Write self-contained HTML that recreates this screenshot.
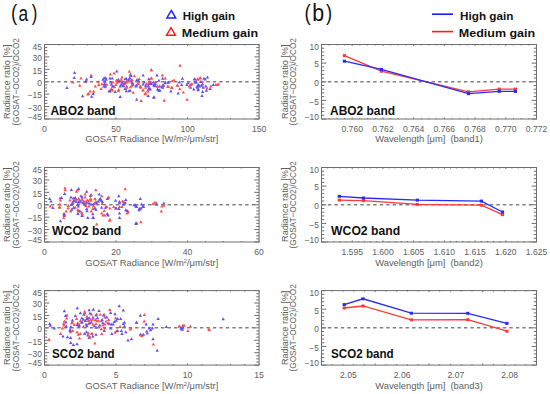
<!DOCTYPE html><html><head><meta charset="utf-8"><style>html,body{margin:0;padding:0;background:#fff;width:550px;height:394px;overflow:hidden}</style></head><body><svg width="550" height="394" viewBox="0 0 550 394" style="position:absolute;left:0;top:0;font-family:'Liberation Sans', sans-serif">
<rect width="550" height="394" fill="#fff"/>
<text transform="translate(11.10 19.81) scale(0.1840 0.2296)" font-size="100" fill="#111">(</text>
<text transform="translate(18.41 20.60) scale(0.1725 0.2259)" font-size="100" fill="#111">a</text>
<text transform="translate(31.83 19.81) scale(0.1680 0.2296)" font-size="100" fill="#111">)</text>
<text transform="translate(304.60 19.81) scale(0.1840 0.2296)" font-size="100" fill="#111">(</text>
<text transform="translate(312.20 20.63) scale(0.2140 0.2306)" font-size="100" fill="#111">b</text>
<text transform="translate(326.12 19.81) scale(0.1840 0.2296)" font-size="100" fill="#111">)</text>
<path d="M171.3 10.4 L175.7 17.9 L166.9 17.9 Z" fill="none" stroke="#2020ff" stroke-width="1.5" stroke-linejoin="miter"/>
<path d="M171.0 27.7 L175.4 35.2 L166.6 35.2 Z" fill="none" stroke="#ff1a1a" stroke-width="1.5"/>
<text x="182.7" y="19.7" font-size="11.8" text-anchor="start" fill="#111" font-weight="bold" textLength="52.3" lengthAdjust="spacingAndGlyphs">High gain</text>
<text x="181.8" y="36.6" font-size="11.8" text-anchor="start" fill="#111" font-weight="bold" textLength="76.4" lengthAdjust="spacingAndGlyphs">Medium gain</text>
<line x1="432" y1="14.2" x2="453" y2="14.2" stroke="#1a1aff" stroke-width="1.6"/>
<line x1="432" y1="31.6" x2="453" y2="31.6" stroke="#ff1a1a" stroke-width="1.6"/>
<text x="460" y="20" font-size="11.8" text-anchor="start" fill="#111" font-weight="bold" textLength="53.4" lengthAdjust="spacingAndGlyphs">High gain</text>
<text x="458.8" y="37.1" font-size="11.8" text-anchor="start" fill="#111" font-weight="bold" textLength="76.4" lengthAdjust="spacingAndGlyphs">Medium gain</text>
<rect x="44.5" y="44.5" width="214.60000000000002" height="74.5" fill="none" stroke="#6e6e6e" stroke-width="1"/>
<path d="M44.5 119.00h4.8M259.1 119.00h-4.8M44.5 115.90h2.8M259.1 115.90h-2.8M44.5 112.79h2.8M259.1 112.79h-2.8M44.5 109.69h2.8M259.1 109.69h-2.8M44.5 106.58h4.8M259.1 106.58h-4.8M44.5 103.48h2.8M259.1 103.48h-2.8M44.5 100.38h2.8M259.1 100.38h-2.8M44.5 97.27h2.8M259.1 97.27h-2.8M44.5 94.17h4.8M259.1 94.17h-4.8M44.5 91.06h2.8M259.1 91.06h-2.8M44.5 87.96h2.8M259.1 87.96h-2.8M44.5 84.85h2.8M259.1 84.85h-2.8M44.5 81.75h4.8M259.1 81.75h-4.8M44.5 78.65h2.8M259.1 78.65h-2.8M44.5 75.54h2.8M259.1 75.54h-2.8M44.5 72.44h2.8M259.1 72.44h-2.8M44.5 69.33h4.8M259.1 69.33h-4.8M44.5 66.23h2.8M259.1 66.23h-2.8M44.5 63.12h2.8M259.1 63.12h-2.8M44.5 60.02h2.8M259.1 60.02h-2.8M44.5 56.92h4.8M259.1 56.92h-4.8M44.5 53.81h2.8M259.1 53.81h-2.8M44.5 50.71h2.8M259.1 50.71h-2.8M44.5 47.60h2.8M259.1 47.60h-2.8M44.5 44.50h4.8M259.1 44.50h-4.8" stroke="#6e6e6e" stroke-width="1" fill="none"/>
<path d="M44.50 119.0v-1.6M44.50 44.5v1.6M58.81 119.0v-1.0M58.81 44.5v1.0M73.11 119.0v-1.0M73.11 44.5v1.0M87.42 119.0v-1.0M87.42 44.5v1.0M101.73 119.0v-1.0M101.73 44.5v1.0M116.03 119.0v-1.6M116.03 44.5v1.6M130.34 119.0v-1.0M130.34 44.5v1.0M144.65 119.0v-1.0M144.65 44.5v1.0M158.95 119.0v-1.0M158.95 44.5v1.0M173.26 119.0v-1.0M173.26 44.5v1.0M187.57 119.0v-1.6M187.57 44.5v1.6M201.87 119.0v-1.0M201.87 44.5v1.0M216.18 119.0v-1.0M216.18 44.5v1.0M230.49 119.0v-1.0M230.49 44.5v1.0M244.79 119.0v-1.0M244.79 44.5v1.0M259.10 119.0v-1.6M259.10 44.5v1.6" stroke="#6e6e6e" stroke-width="1" fill="none"/>
<line x1="44.5" y1="81.75" x2="258.1" y2="81.75" stroke="#808080" stroke-width="1.5" stroke-dasharray="3.4 3.08" stroke-dashoffset="0.1"/>
<text x="41.9" y="119.6" font-size="8.4" text-anchor="end" fill="#5e5e5e" font-weight="normal" >&#8722;45</text>
<text x="41.9" y="110.88333333333333" font-size="8.4" text-anchor="end" fill="#5e5e5e" font-weight="normal" >&#8722;30</text>
<text x="41.9" y="98.46666666666667" font-size="8.4" text-anchor="end" fill="#5e5e5e" font-weight="normal" >&#8722;15</text>
<text x="41.9" y="86.05" font-size="8.4" text-anchor="end" fill="#5e5e5e" font-weight="normal" >0</text>
<text x="41.9" y="73.63333333333334" font-size="8.4" text-anchor="end" fill="#5e5e5e" font-weight="normal" >15</text>
<text x="41.9" y="61.21666666666666" font-size="8.4" text-anchor="end" fill="#5e5e5e" font-weight="normal" >30</text>
<text x="41.9" y="50.1" font-size="8.4" text-anchor="end" fill="#5e5e5e" font-weight="normal" >45</text>
<text x="44.5" y="131.8" font-size="8.6" text-anchor="middle" fill="#5e5e5e" font-weight="normal" >0</text>
<text x="116.03333333333335" y="131.8" font-size="8.6" text-anchor="middle" fill="#5e5e5e" font-weight="normal" >50</text>
<text x="187.5666666666667" y="131.8" font-size="8.6" text-anchor="middle" fill="#5e5e5e" font-weight="normal" >100</text>
<text x="259.1" y="131.8" font-size="8.6" text-anchor="middle" fill="#5e5e5e" font-weight="normal" >150</text>
<text x="151.8" y="142.2" font-size="8.4" text-anchor="middle" fill="#5e5e5e" font-weight="normal" textLength="133" lengthAdjust="spacingAndGlyphs">GOSAT Radiance [W/m<tspan dy="-2.5" font-size="5">2</tspan><tspan dy="2.5">/&#956;m/str]</tspan></text>
<text transform="translate(10.4 81.75) rotate(-90)" x="0" y="0" font-size="9" text-anchor="middle" fill="#5e5e5e" textLength="74.4" lengthAdjust="spacingAndGlyphs">Radiance ratio [%]</text>
<text transform="translate(18.6 81.75) rotate(-90)" x="0" y="0" font-size="9" text-anchor="middle" fill="#5e5e5e" textLength="87.3" lengthAdjust="spacingAndGlyphs">(GOSAT&#8722;OCO2)/OCO2</text>
<text x="50.5" y="114.7" font-size="12" text-anchor="start" fill="#111" font-weight="bold" textLength="65" lengthAdjust="spacingAndGlyphs">ABO2 band</text>
<rect x="321.5" y="44.5" width="215.0" height="74.5" fill="none" stroke="#6e6e6e" stroke-width="1"/>
<path d="M321.5 119.00h4.8M536.5 119.00h-4.8M321.5 115.28h2.8M536.5 115.28h-2.8M321.5 111.55h2.8M536.5 111.55h-2.8M321.5 107.83h2.8M536.5 107.83h-2.8M321.5 104.10h2.8M536.5 104.10h-2.8M321.5 100.38h4.8M536.5 100.38h-4.8M321.5 96.65h2.8M536.5 96.65h-2.8M321.5 92.92h2.8M536.5 92.92h-2.8M321.5 89.20h2.8M536.5 89.20h-2.8M321.5 85.47h2.8M536.5 85.47h-2.8M321.5 81.75h4.8M536.5 81.75h-4.8M321.5 78.03h2.8M536.5 78.03h-2.8M321.5 74.30h2.8M536.5 74.30h-2.8M321.5 70.57h2.8M536.5 70.57h-2.8M321.5 66.85h2.8M536.5 66.85h-2.8M321.5 63.12h4.8M536.5 63.12h-4.8M321.5 59.40h2.8M536.5 59.40h-2.8M321.5 55.68h2.8M536.5 55.68h-2.8M321.5 51.95h2.8M536.5 51.95h-2.8M321.5 48.23h2.8M536.5 48.23h-2.8M321.5 44.50h4.8M536.5 44.50h-4.8" stroke="#6e6e6e" stroke-width="1" fill="none"/>
<path d="M321.50 119.0v-1.6M321.50 44.5v1.6M329.18 119.0v-1.0M329.18 44.5v1.0M336.86 119.0v-1.0M336.86 44.5v1.0M344.54 119.0v-1.0M344.54 44.5v1.0M352.21 119.0v-1.6M352.21 44.5v1.6M359.89 119.0v-1.0M359.89 44.5v1.0M367.57 119.0v-1.0M367.57 44.5v1.0M375.25 119.0v-1.0M375.25 44.5v1.0M382.93 119.0v-1.6M382.93 44.5v1.6M390.61 119.0v-1.0M390.61 44.5v1.0M398.29 119.0v-1.0M398.29 44.5v1.0M405.96 119.0v-1.0M405.96 44.5v1.0M413.64 119.0v-1.6M413.64 44.5v1.6M421.32 119.0v-1.0M421.32 44.5v1.0M429.00 119.0v-1.0M429.00 44.5v1.0M436.68 119.0v-1.0M436.68 44.5v1.0M444.36 119.0v-1.6M444.36 44.5v1.6M452.04 119.0v-1.0M452.04 44.5v1.0M459.71 119.0v-1.0M459.71 44.5v1.0M467.39 119.0v-1.0M467.39 44.5v1.0M475.07 119.0v-1.6M475.07 44.5v1.6M482.75 119.0v-1.0M482.75 44.5v1.0M490.43 119.0v-1.0M490.43 44.5v1.0M498.11 119.0v-1.0M498.11 44.5v1.0M505.79 119.0v-1.6M505.79 44.5v1.6M513.46 119.0v-1.0M513.46 44.5v1.0M521.14 119.0v-1.0M521.14 44.5v1.0M528.82 119.0v-1.0M528.82 44.5v1.0M536.50 119.0v-1.6M536.50 44.5v1.6" stroke="#6e6e6e" stroke-width="1" fill="none"/>
<line x1="321.5" y1="81.75" x2="535.5" y2="81.75" stroke="#808080" stroke-width="1.5" stroke-dasharray="3.4 3.08" stroke-dashoffset="0.1"/>
<text x="318.9" y="119.6" font-size="8.4" text-anchor="end" fill="#5e5e5e" font-weight="normal" >&#8722;10</text>
<text x="318.9" y="104.675" font-size="8.4" text-anchor="end" fill="#5e5e5e" font-weight="normal" >&#8722;5</text>
<text x="318.9" y="86.05" font-size="8.4" text-anchor="end" fill="#5e5e5e" font-weight="normal" >0</text>
<text x="318.9" y="67.425" font-size="8.4" text-anchor="end" fill="#5e5e5e" font-weight="normal" >5</text>
<text x="318.9" y="50.1" font-size="8.4" text-anchor="end" fill="#5e5e5e" font-weight="normal" >10</text>
<text x="352.2142857142857" y="131.8" font-size="8.6" text-anchor="middle" fill="#5e5e5e" font-weight="normal" >0.760</text>
<text x="382.92857142857144" y="131.8" font-size="8.6" text-anchor="middle" fill="#5e5e5e" font-weight="normal" >0.762</text>
<text x="413.6428571428571" y="131.8" font-size="8.6" text-anchor="middle" fill="#5e5e5e" font-weight="normal" >0.764</text>
<text x="444.35714285714283" y="131.8" font-size="8.6" text-anchor="middle" fill="#5e5e5e" font-weight="normal" >0.766</text>
<text x="475.07142857142856" y="131.8" font-size="8.6" text-anchor="middle" fill="#5e5e5e" font-weight="normal" >0.768</text>
<text x="505.7857142857143" y="131.8" font-size="8.6" text-anchor="middle" fill="#5e5e5e" font-weight="normal" >0.770</text>
<text x="536.5" y="131.8" font-size="8.6" text-anchor="middle" fill="#5e5e5e" font-weight="normal" >0.772</text>
<text x="429.0" y="142.2" font-size="8.6" text-anchor="middle" fill="#5e5e5e" font-weight="normal" textLength="107.6" lengthAdjust="spacingAndGlyphs">Wavelength [&#956;m]&#160;&#160;(band1)</text>
<text transform="translate(287.9 81.75) rotate(-90)" x="0" y="0" font-size="9" text-anchor="middle" fill="#5e5e5e" textLength="74.4" lengthAdjust="spacingAndGlyphs">Radiance ratio [%]</text>
<text transform="translate(296.1 81.75) rotate(-90)" x="0" y="0" font-size="9" text-anchor="middle" fill="#5e5e5e" textLength="87.3" lengthAdjust="spacingAndGlyphs">(GOSAT&#8722;OCO2)/OCO2</text>
<text x="330.1" y="114.7" font-size="12" text-anchor="start" fill="#111" font-weight="bold" textLength="65" lengthAdjust="spacingAndGlyphs">ABO2 band</text>
<rect x="44.5" y="167.5" width="214.60000000000002" height="74.5" fill="none" stroke="#6e6e6e" stroke-width="1"/>
<path d="M44.5 242.00h4.8M259.1 242.00h-4.8M44.5 238.90h2.8M259.1 238.90h-2.8M44.5 235.79h2.8M259.1 235.79h-2.8M44.5 232.69h2.8M259.1 232.69h-2.8M44.5 229.58h4.8M259.1 229.58h-4.8M44.5 226.48h2.8M259.1 226.48h-2.8M44.5 223.38h2.8M259.1 223.38h-2.8M44.5 220.27h2.8M259.1 220.27h-2.8M44.5 217.17h4.8M259.1 217.17h-4.8M44.5 214.06h2.8M259.1 214.06h-2.8M44.5 210.96h2.8M259.1 210.96h-2.8M44.5 207.85h2.8M259.1 207.85h-2.8M44.5 204.75h4.8M259.1 204.75h-4.8M44.5 201.65h2.8M259.1 201.65h-2.8M44.5 198.54h2.8M259.1 198.54h-2.8M44.5 195.44h2.8M259.1 195.44h-2.8M44.5 192.33h4.8M259.1 192.33h-4.8M44.5 189.23h2.8M259.1 189.23h-2.8M44.5 186.12h2.8M259.1 186.12h-2.8M44.5 183.02h2.8M259.1 183.02h-2.8M44.5 179.92h4.8M259.1 179.92h-4.8M44.5 176.81h2.8M259.1 176.81h-2.8M44.5 173.71h2.8M259.1 173.71h-2.8M44.5 170.60h2.8M259.1 170.60h-2.8M44.5 167.50h4.8M259.1 167.50h-4.8" stroke="#6e6e6e" stroke-width="1" fill="none"/>
<path d="M44.50 242.0v-1.6M44.50 167.5v1.6M62.38 242.0v-1.0M62.38 167.5v1.0M80.27 242.0v-1.0M80.27 167.5v1.0M98.15 242.0v-1.0M98.15 167.5v1.0M116.03 242.0v-1.6M116.03 167.5v1.6M133.92 242.0v-1.0M133.92 167.5v1.0M151.80 242.0v-1.0M151.80 167.5v1.0M169.68 242.0v-1.0M169.68 167.5v1.0M187.57 242.0v-1.6M187.57 167.5v1.6M205.45 242.0v-1.0M205.45 167.5v1.0M223.33 242.0v-1.0M223.33 167.5v1.0M241.22 242.0v-1.0M241.22 167.5v1.0M259.10 242.0v-1.6M259.10 167.5v1.6" stroke="#6e6e6e" stroke-width="1" fill="none"/>
<line x1="44.5" y1="204.75" x2="258.1" y2="204.75" stroke="#808080" stroke-width="1.5" stroke-dasharray="3.4 3.08" stroke-dashoffset="0.1"/>
<text x="41.9" y="242.6" font-size="8.4" text-anchor="end" fill="#5e5e5e" font-weight="normal" >&#8722;45</text>
<text x="41.9" y="233.88333333333335" font-size="8.4" text-anchor="end" fill="#5e5e5e" font-weight="normal" >&#8722;30</text>
<text x="41.9" y="221.46666666666667" font-size="8.4" text-anchor="end" fill="#5e5e5e" font-weight="normal" >&#8722;15</text>
<text x="41.9" y="209.05" font-size="8.4" text-anchor="end" fill="#5e5e5e" font-weight="normal" >0</text>
<text x="41.9" y="196.63333333333335" font-size="8.4" text-anchor="end" fill="#5e5e5e" font-weight="normal" >15</text>
<text x="41.9" y="184.21666666666667" font-size="8.4" text-anchor="end" fill="#5e5e5e" font-weight="normal" >30</text>
<text x="41.9" y="173.1" font-size="8.4" text-anchor="end" fill="#5e5e5e" font-weight="normal" >45</text>
<text x="44.5" y="254.8" font-size="8.6" text-anchor="middle" fill="#5e5e5e" font-weight="normal" >0</text>
<text x="116.03333333333335" y="254.8" font-size="8.6" text-anchor="middle" fill="#5e5e5e" font-weight="normal" >20</text>
<text x="187.5666666666667" y="254.8" font-size="8.6" text-anchor="middle" fill="#5e5e5e" font-weight="normal" >40</text>
<text x="259.1" y="254.8" font-size="8.6" text-anchor="middle" fill="#5e5e5e" font-weight="normal" >60</text>
<text x="151.8" y="265.8" font-size="8.4" text-anchor="middle" fill="#5e5e5e" font-weight="normal" textLength="133" lengthAdjust="spacingAndGlyphs">GOSAT Radiance [W/m<tspan dy="-2.5" font-size="5">2</tspan><tspan dy="2.5">/&#956;m/str]</tspan></text>
<text transform="translate(10.4 204.75) rotate(-90)" x="0" y="0" font-size="9" text-anchor="middle" fill="#5e5e5e" textLength="74.4" lengthAdjust="spacingAndGlyphs">Radiance ratio [%]</text>
<text transform="translate(18.6 204.75) rotate(-90)" x="0" y="0" font-size="9" text-anchor="middle" fill="#5e5e5e" textLength="87.3" lengthAdjust="spacingAndGlyphs">(GOSAT&#8722;OCO2)/OCO2</text>
<text x="52.1" y="234.6" font-size="12" text-anchor="start" fill="#111" font-weight="bold" textLength="69" lengthAdjust="spacingAndGlyphs">WCO2 band</text>
<rect x="321.5" y="167.5" width="215.0" height="74.5" fill="none" stroke="#6e6e6e" stroke-width="1"/>
<path d="M321.5 242.00h4.8M536.5 242.00h-4.8M321.5 238.28h2.8M536.5 238.28h-2.8M321.5 234.55h2.8M536.5 234.55h-2.8M321.5 230.82h2.8M536.5 230.82h-2.8M321.5 227.10h2.8M536.5 227.10h-2.8M321.5 223.38h4.8M536.5 223.38h-4.8M321.5 219.65h2.8M536.5 219.65h-2.8M321.5 215.93h2.8M536.5 215.93h-2.8M321.5 212.20h2.8M536.5 212.20h-2.8M321.5 208.47h2.8M536.5 208.47h-2.8M321.5 204.75h4.8M536.5 204.75h-4.8M321.5 201.03h2.8M536.5 201.03h-2.8M321.5 197.30h2.8M536.5 197.30h-2.8M321.5 193.57h2.8M536.5 193.57h-2.8M321.5 189.85h2.8M536.5 189.85h-2.8M321.5 186.12h4.8M536.5 186.12h-4.8M321.5 182.40h2.8M536.5 182.40h-2.8M321.5 178.68h2.8M536.5 178.68h-2.8M321.5 174.95h2.8M536.5 174.95h-2.8M321.5 171.23h2.8M536.5 171.23h-2.8M321.5 167.50h4.8M536.5 167.50h-4.8" stroke="#6e6e6e" stroke-width="1" fill="none"/>
<path d="M321.50 242.0v-1.6M321.50 167.5v1.6M327.64 242.0v-1.0M327.64 167.5v1.0M333.79 242.0v-1.0M333.79 167.5v1.0M339.93 242.0v-1.0M339.93 167.5v1.0M346.07 242.0v-1.0M346.07 167.5v1.0M352.21 242.0v-1.6M352.21 167.5v1.6M358.36 242.0v-1.0M358.36 167.5v1.0M364.50 242.0v-1.0M364.50 167.5v1.0M370.64 242.0v-1.0M370.64 167.5v1.0M376.79 242.0v-1.0M376.79 167.5v1.0M382.93 242.0v-1.6M382.93 167.5v1.6M389.07 242.0v-1.0M389.07 167.5v1.0M395.21 242.0v-1.0M395.21 167.5v1.0M401.36 242.0v-1.0M401.36 167.5v1.0M407.50 242.0v-1.0M407.50 167.5v1.0M413.64 242.0v-1.6M413.64 167.5v1.6M419.79 242.0v-1.0M419.79 167.5v1.0M425.93 242.0v-1.0M425.93 167.5v1.0M432.07 242.0v-1.0M432.07 167.5v1.0M438.21 242.0v-1.0M438.21 167.5v1.0M444.36 242.0v-1.6M444.36 167.5v1.6M450.50 242.0v-1.0M450.50 167.5v1.0M456.64 242.0v-1.0M456.64 167.5v1.0M462.79 242.0v-1.0M462.79 167.5v1.0M468.93 242.0v-1.0M468.93 167.5v1.0M475.07 242.0v-1.6M475.07 167.5v1.6M481.21 242.0v-1.0M481.21 167.5v1.0M487.36 242.0v-1.0M487.36 167.5v1.0M493.50 242.0v-1.0M493.50 167.5v1.0M499.64 242.0v-1.0M499.64 167.5v1.0M505.79 242.0v-1.6M505.79 167.5v1.6M511.93 242.0v-1.0M511.93 167.5v1.0M518.07 242.0v-1.0M518.07 167.5v1.0M524.21 242.0v-1.0M524.21 167.5v1.0M530.36 242.0v-1.0M530.36 167.5v1.0M536.50 242.0v-1.6M536.50 167.5v1.6" stroke="#6e6e6e" stroke-width="1" fill="none"/>
<line x1="321.5" y1="204.75" x2="535.5" y2="204.75" stroke="#808080" stroke-width="1.5" stroke-dasharray="3.4 3.08" stroke-dashoffset="0.1"/>
<text x="318.9" y="242.6" font-size="8.4" text-anchor="end" fill="#5e5e5e" font-weight="normal" >&#8722;10</text>
<text x="318.9" y="227.675" font-size="8.4" text-anchor="end" fill="#5e5e5e" font-weight="normal" >&#8722;5</text>
<text x="318.9" y="209.05" font-size="8.4" text-anchor="end" fill="#5e5e5e" font-weight="normal" >0</text>
<text x="318.9" y="190.425" font-size="8.4" text-anchor="end" fill="#5e5e5e" font-weight="normal" >5</text>
<text x="318.9" y="173.1" font-size="8.4" text-anchor="end" fill="#5e5e5e" font-weight="normal" >10</text>
<text x="352.21428571428515" y="254.8" font-size="8.6" text-anchor="middle" fill="#5e5e5e" font-weight="normal" >1.595</text>
<text x="382.9285714285716" y="254.8" font-size="8.6" text-anchor="middle" fill="#5e5e5e" font-weight="normal" >1.600</text>
<text x="413.64285714285677" y="254.8" font-size="8.6" text-anchor="middle" fill="#5e5e5e" font-weight="normal" >1.605</text>
<text x="444.35714285714323" y="254.8" font-size="8.6" text-anchor="middle" fill="#5e5e5e" font-weight="normal" >1.610</text>
<text x="475.0714285714284" y="254.8" font-size="8.6" text-anchor="middle" fill="#5e5e5e" font-weight="normal" >1.615</text>
<text x="505.7857142857149" y="254.8" font-size="8.6" text-anchor="middle" fill="#5e5e5e" font-weight="normal" >1.620</text>
<text x="536.5" y="254.8" font-size="8.6" text-anchor="middle" fill="#5e5e5e" font-weight="normal" >1.625</text>
<text x="429.0" y="265.8" font-size="8.6" text-anchor="middle" fill="#5e5e5e" font-weight="normal" textLength="107.6" lengthAdjust="spacingAndGlyphs">Wavelength [&#956;m]&#160;&#160;(band2)</text>
<text transform="translate(287.9 204.75) rotate(-90)" x="0" y="0" font-size="9" text-anchor="middle" fill="#5e5e5e" textLength="74.4" lengthAdjust="spacingAndGlyphs">Radiance ratio [%]</text>
<text transform="translate(296.1 204.75) rotate(-90)" x="0" y="0" font-size="9" text-anchor="middle" fill="#5e5e5e" textLength="87.3" lengthAdjust="spacingAndGlyphs">(GOSAT&#8722;OCO2)/OCO2</text>
<text x="331.1" y="234.6" font-size="12" text-anchor="start" fill="#111" font-weight="bold" textLength="69" lengthAdjust="spacingAndGlyphs">WCO2 band</text>
<rect x="44.5" y="290.6" width="214.60000000000002" height="74.5" fill="none" stroke="#6e6e6e" stroke-width="1"/>
<path d="M44.5 365.10h4.8M259.1 365.10h-4.8M44.5 362.00h2.8M259.1 362.00h-2.8M44.5 358.89h2.8M259.1 358.89h-2.8M44.5 355.79h2.8M259.1 355.79h-2.8M44.5 352.68h4.8M259.1 352.68h-4.8M44.5 349.58h2.8M259.1 349.58h-2.8M44.5 346.48h2.8M259.1 346.48h-2.8M44.5 343.37h2.8M259.1 343.37h-2.8M44.5 340.27h4.8M259.1 340.27h-4.8M44.5 337.16h2.8M259.1 337.16h-2.8M44.5 334.06h2.8M259.1 334.06h-2.8M44.5 330.95h2.8M259.1 330.95h-2.8M44.5 327.85h4.8M259.1 327.85h-4.8M44.5 324.75h2.8M259.1 324.75h-2.8M44.5 321.64h2.8M259.1 321.64h-2.8M44.5 318.54h2.8M259.1 318.54h-2.8M44.5 315.43h4.8M259.1 315.43h-4.8M44.5 312.33h2.8M259.1 312.33h-2.8M44.5 309.23h2.8M259.1 309.23h-2.8M44.5 306.12h2.8M259.1 306.12h-2.8M44.5 303.02h4.8M259.1 303.02h-4.8M44.5 299.91h2.8M259.1 299.91h-2.8M44.5 296.81h2.8M259.1 296.81h-2.8M44.5 293.70h2.8M259.1 293.70h-2.8M44.5 290.60h4.8M259.1 290.60h-4.8" stroke="#6e6e6e" stroke-width="1" fill="none"/>
<path d="M44.50 365.1v-1.6M44.50 290.6v1.6M58.81 365.1v-1.0M58.81 290.6v1.0M73.11 365.1v-1.0M73.11 290.6v1.0M87.42 365.1v-1.0M87.42 290.6v1.0M101.73 365.1v-1.0M101.73 290.6v1.0M116.03 365.1v-1.6M116.03 290.6v1.6M130.34 365.1v-1.0M130.34 290.6v1.0M144.65 365.1v-1.0M144.65 290.6v1.0M158.95 365.1v-1.0M158.95 290.6v1.0M173.26 365.1v-1.0M173.26 290.6v1.0M187.57 365.1v-1.6M187.57 290.6v1.6M201.87 365.1v-1.0M201.87 290.6v1.0M216.18 365.1v-1.0M216.18 290.6v1.0M230.49 365.1v-1.0M230.49 290.6v1.0M244.79 365.1v-1.0M244.79 290.6v1.0M259.10 365.1v-1.6M259.10 290.6v1.6" stroke="#6e6e6e" stroke-width="1" fill="none"/>
<line x1="44.5" y1="327.85" x2="258.1" y2="327.85" stroke="#808080" stroke-width="1.5" stroke-dasharray="3.4 3.08" stroke-dashoffset="0.1"/>
<text x="41.9" y="365.70000000000005" font-size="8.4" text-anchor="end" fill="#5e5e5e" font-weight="normal" >&#8722;45</text>
<text x="41.9" y="356.98333333333335" font-size="8.4" text-anchor="end" fill="#5e5e5e" font-weight="normal" >&#8722;30</text>
<text x="41.9" y="344.5666666666667" font-size="8.4" text-anchor="end" fill="#5e5e5e" font-weight="normal" >&#8722;15</text>
<text x="41.9" y="332.15000000000003" font-size="8.4" text-anchor="end" fill="#5e5e5e" font-weight="normal" >0</text>
<text x="41.9" y="319.73333333333335" font-size="8.4" text-anchor="end" fill="#5e5e5e" font-weight="normal" >15</text>
<text x="41.9" y="307.3166666666667" font-size="8.4" text-anchor="end" fill="#5e5e5e" font-weight="normal" >30</text>
<text x="41.9" y="296.20000000000005" font-size="8.4" text-anchor="end" fill="#5e5e5e" font-weight="normal" >45</text>
<text x="44.5" y="377.90000000000003" font-size="8.6" text-anchor="middle" fill="#5e5e5e" font-weight="normal" >0</text>
<text x="116.03333333333335" y="377.90000000000003" font-size="8.6" text-anchor="middle" fill="#5e5e5e" font-weight="normal" >5</text>
<text x="187.5666666666667" y="377.90000000000003" font-size="8.6" text-anchor="middle" fill="#5e5e5e" font-weight="normal" >10</text>
<text x="259.1" y="377.90000000000003" font-size="8.6" text-anchor="middle" fill="#5e5e5e" font-weight="normal" >15</text>
<text x="151.8" y="388.90000000000003" font-size="8.4" text-anchor="middle" fill="#5e5e5e" font-weight="normal" textLength="133" lengthAdjust="spacingAndGlyphs">GOSAT Radiance [W/m<tspan dy="-2.5" font-size="5">2</tspan><tspan dy="2.5">/&#956;m/str]</tspan></text>
<text transform="translate(10.4 327.85) rotate(-90)" x="0" y="0" font-size="9" text-anchor="middle" fill="#5e5e5e" textLength="74.4" lengthAdjust="spacingAndGlyphs">Radiance ratio [%]</text>
<text transform="translate(18.6 327.85) rotate(-90)" x="0" y="0" font-size="9" text-anchor="middle" fill="#5e5e5e" textLength="87.3" lengthAdjust="spacingAndGlyphs">(GOSAT&#8722;OCO2)/OCO2</text>
<text x="52.1" y="358.0" font-size="12" text-anchor="start" fill="#111" font-weight="bold" textLength="62.6" lengthAdjust="spacingAndGlyphs">SCO2 band</text>
<rect x="321.5" y="290.6" width="215.0" height="74.5" fill="none" stroke="#6e6e6e" stroke-width="1"/>
<path d="M321.5 365.10h4.8M536.5 365.10h-4.8M321.5 361.38h2.8M536.5 361.38h-2.8M321.5 357.65h2.8M536.5 357.65h-2.8M321.5 353.93h2.8M536.5 353.93h-2.8M321.5 350.20h2.8M536.5 350.20h-2.8M321.5 346.48h4.8M536.5 346.48h-4.8M321.5 342.75h2.8M536.5 342.75h-2.8M321.5 339.03h2.8M536.5 339.03h-2.8M321.5 335.30h2.8M536.5 335.30h-2.8M321.5 331.58h2.8M536.5 331.58h-2.8M321.5 327.85h4.8M536.5 327.85h-4.8M321.5 324.12h2.8M536.5 324.12h-2.8M321.5 320.40h2.8M536.5 320.40h-2.8M321.5 316.68h2.8M536.5 316.68h-2.8M321.5 312.95h2.8M536.5 312.95h-2.8M321.5 309.23h4.8M536.5 309.23h-4.8M321.5 305.50h2.8M536.5 305.50h-2.8M321.5 301.78h2.8M536.5 301.78h-2.8M321.5 298.05h2.8M536.5 298.05h-2.8M321.5 294.33h2.8M536.5 294.33h-2.8M321.5 290.60h4.8M536.5 290.60h-4.8" stroke="#6e6e6e" stroke-width="1" fill="none"/>
<path d="M321.50 365.1v-1.6M321.50 290.6v1.6M332.25 365.1v-1.0M332.25 290.6v1.0M343.00 365.1v-1.0M343.00 290.6v1.0M353.75 365.1v-1.0M353.75 290.6v1.0M364.50 365.1v-1.0M364.50 290.6v1.0M375.25 365.1v-1.6M375.25 290.6v1.6M386.00 365.1v-1.0M386.00 290.6v1.0M396.75 365.1v-1.0M396.75 290.6v1.0M407.50 365.1v-1.0M407.50 290.6v1.0M418.25 365.1v-1.0M418.25 290.6v1.0M429.00 365.1v-1.6M429.00 290.6v1.6M439.75 365.1v-1.0M439.75 290.6v1.0M450.50 365.1v-1.0M450.50 290.6v1.0M461.25 365.1v-1.0M461.25 290.6v1.0M472.00 365.1v-1.0M472.00 290.6v1.0M482.75 365.1v-1.6M482.75 290.6v1.6M493.50 365.1v-1.0M493.50 290.6v1.0M504.25 365.1v-1.0M504.25 290.6v1.0M515.00 365.1v-1.0M515.00 290.6v1.0M525.75 365.1v-1.0M525.75 290.6v1.0M536.50 365.1v-1.6M536.50 290.6v1.6" stroke="#6e6e6e" stroke-width="1" fill="none"/>
<line x1="321.5" y1="327.85" x2="535.5" y2="327.85" stroke="#808080" stroke-width="1.5" stroke-dasharray="3.4 3.08" stroke-dashoffset="0.1"/>
<text x="318.9" y="365.70000000000005" font-size="8.4" text-anchor="end" fill="#5e5e5e" font-weight="normal" >&#8722;10</text>
<text x="318.9" y="350.77500000000003" font-size="8.4" text-anchor="end" fill="#5e5e5e" font-weight="normal" >&#8722;5</text>
<text x="318.9" y="332.15000000000003" font-size="8.4" text-anchor="end" fill="#5e5e5e" font-weight="normal" >0</text>
<text x="318.9" y="313.52500000000003" font-size="8.4" text-anchor="end" fill="#5e5e5e" font-weight="normal" >5</text>
<text x="318.9" y="296.20000000000005" font-size="8.4" text-anchor="end" fill="#5e5e5e" font-weight="normal" >10</text>
<text x="348.37499999999943" y="377.90000000000003" font-size="8.6" text-anchor="middle" fill="#5e5e5e" font-weight="normal" >2.05</text>
<text x="402.12500000000057" y="377.90000000000003" font-size="8.6" text-anchor="middle" fill="#5e5e5e" font-weight="normal" >2.06</text>
<text x="455.87499999999943" y="377.90000000000003" font-size="8.6" text-anchor="middle" fill="#5e5e5e" font-weight="normal" >2.07</text>
<text x="509.62500000000057" y="377.90000000000003" font-size="8.6" text-anchor="middle" fill="#5e5e5e" font-weight="normal" >2.08</text>
<text x="429.0" y="388.90000000000003" font-size="8.6" text-anchor="middle" fill="#5e5e5e" font-weight="normal" textLength="107.6" lengthAdjust="spacingAndGlyphs">Wavelength [&#956;m]&#160;&#160;(band3)</text>
<text transform="translate(287.9 327.85) rotate(-90)" x="0" y="0" font-size="9" text-anchor="middle" fill="#5e5e5e" textLength="74.4" lengthAdjust="spacingAndGlyphs">Radiance ratio [%]</text>
<text transform="translate(296.1 327.85) rotate(-90)" x="0" y="0" font-size="9" text-anchor="middle" fill="#5e5e5e" textLength="87.3" lengthAdjust="spacingAndGlyphs">(GOSAT&#8722;OCO2)/OCO2</text>
<text x="331.1" y="358.0" font-size="12" text-anchor="start" fill="#111" font-weight="bold" textLength="62.6" lengthAdjust="spacingAndGlyphs">SCO2 band</text>
<path d="M344.4 55.6 L381.4 71.2 L468.5 91.8 L499.2 89.1 L515.4 89.1" fill="none" stroke="#ff3838" stroke-width="1.3"/>
<rect x="342.8" y="54.1" width="3.2" height="3" fill="#ff3838"/>
<rect x="379.8" y="69.7" width="3.2" height="3" fill="#ff3838"/>
<rect x="466.9" y="90.3" width="3.2" height="3" fill="#ff3838"/>
<rect x="497.6" y="87.6" width="3.2" height="3" fill="#ff3838"/>
<rect x="513.8" y="87.6" width="3.2" height="3" fill="#ff3838"/>
<path d="M344.4 61.2 L381.4 69.4 L468.5 93.7 L499.2 91.3 L515.4 91.4" fill="none" stroke="#2a2af5" stroke-width="1.3"/>
<rect x="342.8" y="59.7" width="3.2" height="3" fill="#2a2af5"/>
<rect x="379.8" y="67.9" width="3.2" height="3" fill="#2a2af5"/>
<rect x="466.9" y="92.2" width="3.2" height="3" fill="#2a2af5"/>
<rect x="497.6" y="89.8" width="3.2" height="3" fill="#2a2af5"/>
<rect x="513.8" y="89.9" width="3.2" height="3" fill="#2a2af5"/>
<path d="M339.3 200.1 L363.5 200.6 L417.3 204.4 L481.4 205.2 L502.5 214.6" fill="none" stroke="#ff3838" stroke-width="1.3"/>
<rect x="337.7" y="198.6" width="3.2" height="3" fill="#ff3838"/>
<rect x="361.9" y="199.1" width="3.2" height="3" fill="#ff3838"/>
<rect x="415.7" y="202.9" width="3.2" height="3" fill="#ff3838"/>
<rect x="479.8" y="203.7" width="3.2" height="3" fill="#ff3838"/>
<rect x="500.9" y="213.1" width="3.2" height="3" fill="#ff3838"/>
<path d="M339.3 196.3 L363.5 198 L417.3 200.1 L481.4 201.1 L502.5 212" fill="none" stroke="#2a2af5" stroke-width="1.3"/>
<rect x="337.7" y="194.8" width="3.2" height="3" fill="#2a2af5"/>
<rect x="361.9" y="196.5" width="3.2" height="3" fill="#2a2af5"/>
<rect x="415.7" y="198.6" width="3.2" height="3" fill="#2a2af5"/>
<rect x="479.8" y="199.6" width="3.2" height="3" fill="#2a2af5"/>
<rect x="500.9" y="210.5" width="3.2" height="3" fill="#2a2af5"/>
<path d="M344.2 308 L363 306 L411.3 319.9 L467.8 319.7 L506.9 331.2" fill="none" stroke="#ff3838" stroke-width="1.3"/>
<rect x="342.6" y="306.5" width="3.2" height="3" fill="#ff3838"/>
<rect x="361.4" y="304.5" width="3.2" height="3" fill="#ff3838"/>
<rect x="409.7" y="318.4" width="3.2" height="3" fill="#ff3838"/>
<rect x="466.2" y="318.2" width="3.2" height="3" fill="#ff3838"/>
<rect x="505.3" y="329.7" width="3.2" height="3" fill="#ff3838"/>
<path d="M344.2 304.6 L363 298.8 L411.3 313.2 L467.8 313.3 L506.9 323.4" fill="none" stroke="#2a2af5" stroke-width="1.3"/>
<rect x="342.6" y="303.1" width="3.2" height="3" fill="#2a2af5"/>
<rect x="361.4" y="297.3" width="3.2" height="3" fill="#2a2af5"/>
<rect x="409.7" y="311.7" width="3.2" height="3" fill="#2a2af5"/>
<rect x="466.2" y="311.8" width="3.2" height="3" fill="#2a2af5"/>
<rect x="505.3" y="321.9" width="3.2" height="3" fill="#2a2af5"/>
<g id="sc">
<path d="M81.0 76.4l1.7 3h-3.4z" fill="#ff4f4c"/>
<path d="M72.7 80.6l1.7 3h-3.4z" fill="#ff4f4c"/>
<path d="M79.7 83.8l1.7 3h-3.4z" fill="#ff4f4c"/>
<path d="M85.4 79.9l1.7 3h-3.4z" fill="#ff4f4c"/>
<path d="M91.1 73.6l1.7 3h-3.4z" fill="#ff4f4c"/>
<path d="M95.3 84.4l1.7 3h-3.4z" fill="#ff4f4c"/>
<path d="M98.1 79.9l1.7 3h-3.4z" fill="#ff4f4c"/>
<path d="M98.7 83.1l1.7 3h-3.4z" fill="#ff4f4c"/>
<path d="M88.6 92.0l1.7 3h-3.4z" fill="#ff4f4c"/>
<path d="M90.1 89.5l1.7 3h-3.4z" fill="#ff4f4c"/>
<path d="M93.6 89.7l1.7 3h-3.4z" fill="#ff4f4c"/>
<path d="M87.7 92.6l1.7 3h-3.4z" fill="#ff4f4c"/>
<path d="M74.6 71.1l1.7 3h-3.4z" fill="#6550f2"/>
<path d="M74.2 76.1l1.7 3h-3.4z" fill="#6550f2"/>
<path d="M67.0 86.0l1.7 3h-3.4z" fill="#6550f2"/>
<path d="M86.6 77.4l1.7 3h-3.4z" fill="#6550f2"/>
<path d="M86.0 79.3l1.7 3h-3.4z" fill="#6550f2"/>
<path d="M91.1 74.9l1.7 3h-3.4z" fill="#6550f2"/>
<path d="M82.6 94.2l1.7 3h-3.4z" fill="#6550f2"/>
<path d="M91.7 94.8l1.7 3h-3.4z" fill="#6550f2"/>
<path d="M93.2 92.0l1.7 3h-3.4z" fill="#6550f2"/>
<path d="M151.3 68.3l1.7 3h-3.4z" fill="#ff4f4c"/>
<path d="M151.3 76.4l1.7 3h-3.4z" fill="#ff4f4c"/>
<path d="M140.5 85.0l1.7 3h-3.4z" fill="#ff4f4c"/>
<path d="M143.1 88.2l1.7 3h-3.4z" fill="#ff4f4c"/>
<path d="M145.6 85.7l1.7 3h-3.4z" fill="#ff4f4c"/>
<path d="M148.1 89.5l1.7 3h-3.4z" fill="#ff4f4c"/>
<path d="M145.6 91.4l1.7 3h-3.4z" fill="#ff4f4c"/>
<path d="M141.2 99.0l1.7 3h-3.4z" fill="#ff4f4c"/>
<path d="M149.4 79.9l1.7 3h-3.4z" fill="#ff4f4c"/>
<path d="M148.1 84.4l1.7 3h-3.4z" fill="#ff4f4c"/>
<path d="M143.1 73.6l1.7 3h-3.4z" fill="#6550f2"/>
<path d="M148.8 77.2l1.7 3h-3.4z" fill="#6550f2"/>
<path d="M143.1 82.5l1.7 3h-3.4z" fill="#6550f2"/>
<path d="M149.4 81.9l1.7 3h-3.4z" fill="#6550f2"/>
<path d="M153.2 80.6l1.7 3h-3.4z" fill="#6550f2"/>
<path d="M154.5 82.5l1.7 3h-3.4z" fill="#6550f2"/>
<path d="M148.8 86.9l1.7 3h-3.4z" fill="#6550f2"/>
<path d="M150.1 87.6l1.7 3h-3.4z" fill="#6550f2"/>
<path d="M136.7 97.7l1.7 3h-3.4z" fill="#6550f2"/>
<path d="M148.1 93.9l1.7 3h-3.4z" fill="#6550f2"/>
<path d="M153.9 95.2l1.7 3h-3.4z" fill="#6550f2"/>
<path d="M144.3 80.6l1.7 3h-3.4z" fill="#6550f2"/>
<path d="M151.3 68.3l1.7 3h-3.4z" fill="#ff4f4c"/>
<path d="M180.1 63.7l1.7 3h-3.4z" fill="#ff4f4c"/>
<path d="M162.4 73.6l1.7 3h-3.4z" fill="#ff4f4c"/>
<path d="M151.5 76.4l1.7 3h-3.4z" fill="#ff4f4c"/>
<path d="M165.2 76.4l1.7 3h-3.4z" fill="#ff4f4c"/>
<path d="M172.2 79.3l1.7 3h-3.4z" fill="#ff4f4c"/>
<path d="M174.1 78.4l1.7 3h-3.4z" fill="#ff4f4c"/>
<path d="M177.3 83.5l1.7 3h-3.4z" fill="#ff4f4c"/>
<path d="M179.8 87.3l1.7 3h-3.4z" fill="#ff4f4c"/>
<path d="M183.2 90.4l1.7 3h-3.4z" fill="#ff4f4c"/>
<path d="M187.1 97.7l1.7 3h-3.4z" fill="#ff4f4c"/>
<path d="M164.2 98.7l1.7 3h-3.4z" fill="#ff4f4c"/>
<path d="M162.7 83.8l1.7 3h-3.4z" fill="#ff4f4c"/>
<path d="M167.8 84.4l1.7 3h-3.4z" fill="#ff4f4c"/>
<path d="M171.6 85.7l1.7 3h-3.4z" fill="#ff4f4c"/>
<path d="M157.6 84.4l1.7 3h-3.4z" fill="#ff4f4c"/>
<path d="M190.6 83.1l1.7 3h-3.4z" fill="#ff4f4c"/>
<path d="M191.9 81.9l1.7 3h-3.4z" fill="#ff4f4c"/>
<path d="M197.6 77.4l1.7 3h-3.4z" fill="#ff4f4c"/>
<path d="M199.5 76.8l1.7 3h-3.4z" fill="#ff4f4c"/>
<path d="M155.7 80.6l1.7 3h-3.4z" fill="#ff4f4c"/>
<path d="M150.0 80.6l1.7 3h-3.4z" fill="#ff4f4c"/>
<path d="M189.3 84.4l1.7 3h-3.4z" fill="#ff4f4c"/>
<path d="M157.0 73.6l1.7 3h-3.4z" fill="#6550f2"/>
<path d="M162.7 76.8l1.7 3h-3.4z" fill="#6550f2"/>
<path d="M182.4 76.8l1.7 3h-3.4z" fill="#6550f2"/>
<path d="M194.4 77.2l1.7 3h-3.4z" fill="#6550f2"/>
<path d="M158.9 78.7l1.7 3h-3.4z" fill="#6550f2"/>
<path d="M165.2 80.6l1.7 3h-3.4z" fill="#6550f2"/>
<path d="M168.4 80.6l1.7 3h-3.4z" fill="#6550f2"/>
<path d="M179.2 80.6l1.7 3h-3.4z" fill="#6550f2"/>
<path d="M181.7 83.1l1.7 3h-3.4z" fill="#6550f2"/>
<path d="M188.1 81.2l1.7 3h-3.4z" fill="#6550f2"/>
<path d="M186.8 83.1l1.7 3h-3.4z" fill="#6550f2"/>
<path d="M190.6 85.7l1.7 3h-3.4z" fill="#6550f2"/>
<path d="M193.8 87.6l1.7 3h-3.4z" fill="#6550f2"/>
<path d="M197.0 85.0l1.7 3h-3.4z" fill="#6550f2"/>
<path d="M198.9 83.8l1.7 3h-3.4z" fill="#6550f2"/>
<path d="M198.2 87.6l1.7 3h-3.4z" fill="#6550f2"/>
<path d="M151.3 81.9l1.7 3h-3.4z" fill="#6550f2"/>
<path d="M153.8 83.8l1.7 3h-3.4z" fill="#6550f2"/>
<path d="M157.6 87.6l1.7 3h-3.4z" fill="#6550f2"/>
<path d="M159.5 88.6l1.7 3h-3.4z" fill="#6550f2"/>
<path d="M162.7 85.7l1.7 3h-3.4z" fill="#6550f2"/>
<path d="M170.9 89.5l1.7 3h-3.4z" fill="#6550f2"/>
<path d="M178.2 91.4l1.7 3h-3.4z" fill="#6550f2"/>
<path d="M153.8 95.8l1.7 3h-3.4z" fill="#6550f2"/>
<path d="M150.0 86.9l1.7 3h-3.4z" fill="#6550f2"/>
<path d="M155.1 81.9l1.7 3h-3.4z" fill="#6550f2"/>
<path d="M195.1 80.6l1.7 3h-3.4z" fill="#6550f2"/>
<path d="M197.5 77.4l1.7 3h-3.4z" fill="#ff4f4c"/>
<path d="M200.3 76.1l1.7 3h-3.4z" fill="#ff4f4c"/>
<path d="M202.0 79.9l1.7 3h-3.4z" fill="#ff4f4c"/>
<path d="M210.9 84.4l1.7 3h-3.4z" fill="#ff4f4c"/>
<path d="M207.1 86.5l1.7 3h-3.4z" fill="#ff4f4c"/>
<path d="M215.9 83.1l1.7 3h-3.4z" fill="#ff4f4c"/>
<path d="M218.5 82.5l1.7 3h-3.4z" fill="#ff4f4c"/>
<path d="M217.2 83.1l1.7 3h-3.4z" fill="#ff4f4c"/>
<path d="M195.0 77.4l1.7 3h-3.4z" fill="#6550f2"/>
<path d="M196.3 80.6l1.7 3h-3.4z" fill="#6550f2"/>
<path d="M203.9 76.8l1.7 3h-3.4z" fill="#6550f2"/>
<path d="M205.2 77.4l1.7 3h-3.4z" fill="#6550f2"/>
<path d="M207.4 75.5l1.7 3h-3.4z" fill="#6550f2"/>
<path d="M200.7 79.9l1.7 3h-3.4z" fill="#6550f2"/>
<path d="M198.2 83.1l1.7 3h-3.4z" fill="#6550f2"/>
<path d="M199.4 84.4l1.7 3h-3.4z" fill="#6550f2"/>
<path d="M197.5 85.7l1.7 3h-3.4z" fill="#6550f2"/>
<path d="M201.3 83.8l1.7 3h-3.4z" fill="#6550f2"/>
<path d="M202.6 82.5l1.7 3h-3.4z" fill="#6550f2"/>
<path d="M205.8 84.4l1.7 3h-3.4z" fill="#6550f2"/>
<path d="M202.6 90.1l1.7 3h-3.4z" fill="#6550f2"/>
<path d="M202.0 93.9l1.7 3h-3.4z" fill="#6550f2"/>
<path d="M206.4 88.8l1.7 3h-3.4z" fill="#6550f2"/>
<path d="M210.2 86.9l1.7 3h-3.4z" fill="#6550f2"/>
<path d="M213.4 83.1l1.7 3h-3.4z" fill="#6550f2"/>
<path d="M198.2 88.2l1.7 3h-3.4z" fill="#6550f2"/>
<path d="M203.2 85.7l1.7 3h-3.4z" fill="#6550f2"/>
<path d="M110.3 72.4l1.7 3h-3.4z" fill="#ff4f4c"/>
<path d="M114.1 71.5l1.7 3h-3.4z" fill="#ff4f4c"/>
<path d="M129.3 69.7l1.7 3h-3.4z" fill="#ff4f4c"/>
<path d="M134.3 74.3l1.7 3h-3.4z" fill="#ff4f4c"/>
<path d="M122.1 75.4l1.7 3h-3.4z" fill="#ff4f4c"/>
<path d="M116.4 78.5l1.7 3h-3.4z" fill="#ff4f4c"/>
<path d="M117.1 80.8l1.7 3h-3.4z" fill="#ff4f4c"/>
<path d="M119.0 80.0l1.7 3h-3.4z" fill="#ff4f4c"/>
<path d="M120.6 79.3l1.7 3h-3.4z" fill="#ff4f4c"/>
<path d="M121.3 77.7l1.7 3h-3.4z" fill="#ff4f4c"/>
<path d="M116.0 83.1l1.7 3h-3.4z" fill="#ff4f4c"/>
<path d="M113.0 80.4l1.7 3h-3.4z" fill="#ff4f4c"/>
<path d="M113.3 84.6l1.7 3h-3.4z" fill="#ff4f4c"/>
<path d="M114.5 85.3l1.7 3h-3.4z" fill="#ff4f4c"/>
<path d="M111.4 86.9l1.7 3h-3.4z" fill="#ff4f4c"/>
<path d="M111.0 88.0l1.7 3h-3.4z" fill="#ff4f4c"/>
<path d="M112.6 88.4l1.7 3h-3.4z" fill="#ff4f4c"/>
<path d="M118.7 88.0l1.7 3h-3.4z" fill="#ff4f4c"/>
<path d="M118.3 89.2l1.7 3h-3.4z" fill="#ff4f4c"/>
<path d="M126.7 79.6l1.7 3h-3.4z" fill="#ff4f4c"/>
<path d="M127.4 80.4l1.7 3h-3.4z" fill="#ff4f4c"/>
<path d="M128.2 78.9l1.7 3h-3.4z" fill="#ff4f4c"/>
<path d="M131.2 78.5l1.7 3h-3.4z" fill="#ff4f4c"/>
<path d="M132.0 78.1l1.7 3h-3.4z" fill="#ff4f4c"/>
<path d="M132.8 81.5l1.7 3h-3.4z" fill="#ff4f4c"/>
<path d="M132.0 83.8l1.7 3h-3.4z" fill="#ff4f4c"/>
<path d="M126.7 84.6l1.7 3h-3.4z" fill="#ff4f4c"/>
<path d="M127.0 85.7l1.7 3h-3.4z" fill="#ff4f4c"/>
<path d="M130.5 85.3l1.7 3h-3.4z" fill="#ff4f4c"/>
<path d="M101.9 82.3l1.7 3h-3.4z" fill="#ff4f4c"/>
<path d="M101.1 86.9l1.7 3h-3.4z" fill="#ff4f4c"/>
<path d="M105.3 85.3l1.7 3h-3.4z" fill="#ff4f4c"/>
<path d="M106.9 82.7l1.7 3h-3.4z" fill="#ff4f4c"/>
<path d="M138.1 81.9l1.7 3h-3.4z" fill="#ff4f4c"/>
<path d="M138.9 80.4l1.7 3h-3.4z" fill="#ff4f4c"/>
<path d="M139.2 77.0l1.7 3h-3.4z" fill="#ff4f4c"/>
<path d="M133.1 90.7l1.7 3h-3.4z" fill="#ff4f4c"/>
<path d="M124.8 82.3l1.7 3h-3.4z" fill="#ff4f4c"/>
<path d="M122.9 81.5l1.7 3h-3.4z" fill="#ff4f4c"/>
<path d="M116.8 69.5l1.7 3h-3.4z" fill="#6550f2"/>
<path d="M104.2 76.2l1.7 3h-3.4z" fill="#6550f2"/>
<path d="M105.7 76.2l1.7 3h-3.4z" fill="#6550f2"/>
<path d="M109.9 76.6l1.7 3h-3.4z" fill="#6550f2"/>
<path d="M112.2 76.6l1.7 3h-3.4z" fill="#6550f2"/>
<path d="M103.0 77.7l1.7 3h-3.4z" fill="#6550f2"/>
<path d="M106.1 77.7l1.7 3h-3.4z" fill="#6550f2"/>
<path d="M105.0 79.6l1.7 3h-3.4z" fill="#6550f2"/>
<path d="M104.6 81.9l1.7 3h-3.4z" fill="#6550f2"/>
<path d="M103.8 84.6l1.7 3h-3.4z" fill="#6550f2"/>
<path d="M105.3 83.8l1.7 3h-3.4z" fill="#6550f2"/>
<path d="M110.7 80.4l1.7 3h-3.4z" fill="#6550f2"/>
<path d="M111.4 82.7l1.7 3h-3.4z" fill="#6550f2"/>
<path d="M118.3 77.7l1.7 3h-3.4z" fill="#6550f2"/>
<path d="M119.0 79.3l1.7 3h-3.4z" fill="#6550f2"/>
<path d="M122.1 80.4l1.7 3h-3.4z" fill="#6550f2"/>
<path d="M121.3 82.7l1.7 3h-3.4z" fill="#6550f2"/>
<path d="M122.9 83.8l1.7 3h-3.4z" fill="#6550f2"/>
<path d="M125.1 77.3l1.7 3h-3.4z" fill="#6550f2"/>
<path d="M126.3 77.0l1.7 3h-3.4z" fill="#6550f2"/>
<path d="M129.0 77.7l1.7 3h-3.4z" fill="#6550f2"/>
<path d="M129.7 76.2l1.7 3h-3.4z" fill="#6550f2"/>
<path d="M130.5 72.8l1.7 3h-3.4z" fill="#6550f2"/>
<path d="M130.9 73.9l1.7 3h-3.4z" fill="#6550f2"/>
<path d="M132.0 80.8l1.7 3h-3.4z" fill="#6550f2"/>
<path d="M133.1 82.7l1.7 3h-3.4z" fill="#6550f2"/>
<path d="M135.8 84.6l1.7 3h-3.4z" fill="#6550f2"/>
<path d="M136.6 83.4l1.7 3h-3.4z" fill="#6550f2"/>
<path d="M137.0 78.1l1.7 3h-3.4z" fill="#6550f2"/>
<path d="M138.5 78.9l1.7 3h-3.4z" fill="#6550f2"/>
<path d="M125.1 86.9l1.7 3h-3.4z" fill="#6550f2"/>
<path d="M126.3 89.2l1.7 3h-3.4z" fill="#6550f2"/>
<path d="M129.0 89.2l1.7 3h-3.4z" fill="#6550f2"/>
<path d="M130.1 88.8l1.7 3h-3.4z" fill="#6550f2"/>
<path d="M120.2 94.9l1.7 3h-3.4z" fill="#6550f2"/>
<path d="M109.1 89.2l1.7 3h-3.4z" fill="#6550f2"/>
<path d="M109.9 89.5l1.7 3h-3.4z" fill="#6550f2"/>
<path d="M112.6 84.6l1.7 3h-3.4z" fill="#6550f2"/>
<path d="M115.2 89.9l1.7 3h-3.4z" fill="#6550f2"/>
<path d="M120.2 84.6l1.7 3h-3.4z" fill="#6550f2"/>
<path d="M123.6 84.2l1.7 3h-3.4z" fill="#6550f2"/>
<path d="M125.1 81.2l1.7 3h-3.4z" fill="#6550f2"/>
<path d="M146.9 81.9l1.7 3h-3.4z" fill="#ff4f4c"/>
<path d="M149.1 80.4l1.7 3h-3.4z" fill="#ff4f4c"/>
<path d="M150.7 80.4l1.7 3h-3.4z" fill="#ff4f4c"/>
<path d="M157.5 84.6l1.7 3h-3.4z" fill="#ff4f4c"/>
<path d="M162.9 83.4l1.7 3h-3.4z" fill="#ff4f4c"/>
<path d="M168.2 85.0l1.7 3h-3.4z" fill="#ff4f4c"/>
<path d="M172.0 86.1l1.7 3h-3.4z" fill="#ff4f4c"/>
<path d="M140.0 84.6l1.7 3h-3.4z" fill="#ff4f4c"/>
<path d="M140.8 85.7l1.7 3h-3.4z" fill="#ff4f4c"/>
<path d="M143.0 88.4l1.7 3h-3.4z" fill="#ff4f4c"/>
<path d="M145.0 92.2l1.7 3h-3.4z" fill="#ff4f4c"/>
<path d="M147.6 89.2l1.7 3h-3.4z" fill="#ff4f4c"/>
<path d="M177.7 83.8l1.7 3h-3.4z" fill="#ff4f4c"/>
<path d="M148.4 84.2l1.7 3h-3.4z" fill="#6550f2"/>
<path d="M150.7 81.9l1.7 3h-3.4z" fill="#6550f2"/>
<path d="M155.2 84.2l1.7 3h-3.4z" fill="#6550f2"/>
<path d="M159.8 84.6l1.7 3h-3.4z" fill="#6550f2"/>
<path d="M162.1 85.3l1.7 3h-3.4z" fill="#6550f2"/>
<path d="M163.6 83.8l1.7 3h-3.4z" fill="#6550f2"/>
<path d="M158.3 88.4l1.7 3h-3.4z" fill="#6550f2"/>
<path d="M159.8 88.8l1.7 3h-3.4z" fill="#6550f2"/>
<path d="M165.1 81.2l1.7 3h-3.4z" fill="#6550f2"/>
<path d="M168.2 80.8l1.7 3h-3.4z" fill="#6550f2"/>
<path d="M145.7 83.8l1.7 3h-3.4z" fill="#6550f2"/>
<path d="M50.3 204.5l1.7 3h-3.4z" fill="#ff4f4c"/>
<path d="M59.2 205.4l1.7 3h-3.4z" fill="#ff4f4c"/>
<path d="M59.9 202.6l1.7 3h-3.4z" fill="#ff4f4c"/>
<path d="M82.1 213.4l1.7 3h-3.4z" fill="#ff4f4c"/>
<path d="M63.7 215.9l1.7 3h-3.4z" fill="#ff4f4c"/>
<path d="M64.3 214.0l1.7 3h-3.4z" fill="#ff4f4c"/>
<path d="M49.7 196.9l1.7 3h-3.4z" fill="#6550f2"/>
<path d="M51.0 199.4l1.7 3h-3.4z" fill="#6550f2"/>
<path d="M52.9 206.1l1.7 3h-3.4z" fill="#6550f2"/>
<path d="M82.1 214.0l1.7 3h-3.4z" fill="#6550f2"/>
<path d="M64.3 213.4l1.7 3h-3.4z" fill="#6550f2"/>
<path d="M87.8 215.9l1.7 3h-3.4z" fill="#6550f2"/>
<path d="M92.9 215.9l1.7 3h-3.4z" fill="#6550f2"/>
<path d="M125.2 187.3l1.7 3h-3.4z" fill="#ff4f4c"/>
<path d="M101.7 194.3l1.7 3h-3.4z" fill="#ff4f4c"/>
<path d="M102.3 201.9l1.7 3h-3.4z" fill="#ff4f4c"/>
<path d="M108.0 196.2l1.7 3h-3.4z" fill="#ff4f4c"/>
<path d="M108.7 195.6l1.7 3h-3.4z" fill="#ff4f4c"/>
<path d="M109.9 206.4l1.7 3h-3.4z" fill="#ff4f4c"/>
<path d="M106.8 205.1l1.7 3h-3.4z" fill="#ff4f4c"/>
<path d="M113.7 205.1l1.7 3h-3.4z" fill="#ff4f4c"/>
<path d="M115.6 206.4l1.7 3h-3.4z" fill="#ff4f4c"/>
<path d="M122.6 199.4l1.7 3h-3.4z" fill="#ff4f4c"/>
<path d="M123.9 200.0l1.7 3h-3.4z" fill="#ff4f4c"/>
<path d="M127.1 211.4l1.7 3h-3.4z" fill="#ff4f4c"/>
<path d="M128.3 210.2l1.7 3h-3.4z" fill="#ff4f4c"/>
<path d="M104.2 208.9l1.7 3h-3.4z" fill="#ff4f4c"/>
<path d="M101.7 211.4l1.7 3h-3.4z" fill="#ff4f4c"/>
<path d="M103.0 213.4l1.7 3h-3.4z" fill="#ff4f4c"/>
<path d="M104.9 213.4l1.7 3h-3.4z" fill="#ff4f4c"/>
<path d="M119.5 205.1l1.7 3h-3.4z" fill="#ff4f4c"/>
<path d="M122.0 205.1l1.7 3h-3.4z" fill="#ff4f4c"/>
<path d="M109.9 217.8l1.7 3h-3.4z" fill="#ff4f4c"/>
<path d="M100.4 196.9l1.7 3h-3.4z" fill="#6550f2"/>
<path d="M101.1 198.8l1.7 3h-3.4z" fill="#6550f2"/>
<path d="M102.3 200.0l1.7 3h-3.4z" fill="#6550f2"/>
<path d="M107.4 196.9l1.7 3h-3.4z" fill="#6550f2"/>
<path d="M118.8 194.3l1.7 3h-3.4z" fill="#6550f2"/>
<path d="M115.6 198.8l1.7 3h-3.4z" fill="#6550f2"/>
<path d="M119.5 200.0l1.7 3h-3.4z" fill="#6550f2"/>
<path d="M119.5 201.3l1.7 3h-3.4z" fill="#6550f2"/>
<path d="M125.8 198.1l1.7 3h-3.4z" fill="#6550f2"/>
<path d="M125.2 201.3l1.7 3h-3.4z" fill="#6550f2"/>
<path d="M123.3 202.6l1.7 3h-3.4z" fill="#6550f2"/>
<path d="M116.3 206.4l1.7 3h-3.4z" fill="#6550f2"/>
<path d="M118.8 207.0l1.7 3h-3.4z" fill="#6550f2"/>
<path d="M125.8 208.3l1.7 3h-3.4z" fill="#6550f2"/>
<path d="M127.1 208.9l1.7 3h-3.4z" fill="#6550f2"/>
<path d="M134.1 203.2l1.7 3h-3.4z" fill="#6550f2"/>
<path d="M136.6 205.1l1.7 3h-3.4z" fill="#6550f2"/>
<path d="M139.1 207.6l1.7 3h-3.4z" fill="#6550f2"/>
<path d="M101.7 205.7l1.7 3h-3.4z" fill="#6550f2"/>
<path d="M107.4 212.1l1.7 3h-3.4z" fill="#6550f2"/>
<path d="M108.0 213.4l1.7 3h-3.4z" fill="#6550f2"/>
<path d="M93.4 215.9l1.7 3h-3.4z" fill="#6550f2"/>
<path d="M119.5 211.4l1.7 3h-3.4z" fill="#6550f2"/>
<path d="M119.5 215.9l1.7 3h-3.4z" fill="#6550f2"/>
<path d="M105.5 205.7l1.7 3h-3.4z" fill="#6550f2"/>
<path d="M153.0 201.9l1.7 3h-3.4z" fill="#ff4f4c"/>
<path d="M154.9 200.7l1.7 3h-3.4z" fill="#ff4f4c"/>
<path d="M161.9 204.5l1.7 3h-3.4z" fill="#ff4f4c"/>
<path d="M163.8 203.8l1.7 3h-3.4z" fill="#ff4f4c"/>
<path d="M161.3 209.5l1.7 3h-3.4z" fill="#ff4f4c"/>
<path d="M156.2 201.5l1.7 3h-3.4z" fill="#ff4f4c"/>
<path d="M140.3 196.9l1.7 3h-3.4z" fill="#6550f2"/>
<path d="M135.3 203.2l1.7 3h-3.4z" fill="#6550f2"/>
<path d="M135.9 204.5l1.7 3h-3.4z" fill="#6550f2"/>
<path d="M141.6 202.6l1.7 3h-3.4z" fill="#6550f2"/>
<path d="M142.9 204.5l1.7 3h-3.4z" fill="#6550f2"/>
<path d="M143.5 205.1l1.7 3h-3.4z" fill="#6550f2"/>
<path d="M141.0 206.4l1.7 3h-3.4z" fill="#6550f2"/>
<path d="M139.1 208.3l1.7 3h-3.4z" fill="#6550f2"/>
<path d="M139.7 207.0l1.7 3h-3.4z" fill="#6550f2"/>
<path d="M156.8 202.6l1.7 3h-3.4z" fill="#6550f2"/>
<path d="M163.8 201.5l1.7 3h-3.4z" fill="#6550f2"/>
<path d="M96.7 222.4l1.7 3h-3.4z" fill="#ff4f4c"/>
<path d="M135.8 221.5l1.7 3h-3.4z" fill="#ff4f4c"/>
<path d="M109.5 218.8l1.7 3h-3.4z" fill="#ff4f4c"/>
<path d="M140.8 220.2l1.7 3h-3.4z" fill="#ff4f4c"/>
<path d="M136.7 221.5l1.7 3h-3.4z" fill="#6550f2"/>
<path d="M60.4 219.3l1.7 3h-3.4z" fill="#6550f2"/>
<path d="M136.0 222.1l1.7 3h-3.4z" fill="#6550f2"/>
<path d="M65.0 186.3l1.7 3h-3.4z" fill="#ff4f4c"/>
<path d="M65.2 188.3l1.7 3h-3.4z" fill="#ff4f4c"/>
<path d="M76.4 189.8l1.7 3h-3.4z" fill="#ff4f4c"/>
<path d="M77.5 188.3l1.7 3h-3.4z" fill="#ff4f4c"/>
<path d="M95.8 188.3l1.7 3h-3.4z" fill="#ff4f4c"/>
<path d="M85.1 192.4l1.7 3h-3.4z" fill="#ff4f4c"/>
<path d="M91.2 192.8l1.7 3h-3.4z" fill="#ff4f4c"/>
<path d="M60.0 196.6l1.7 3h-3.4z" fill="#ff4f4c"/>
<path d="M60.4 198.5l1.7 3h-3.4z" fill="#ff4f4c"/>
<path d="M69.9 198.5l1.7 3h-3.4z" fill="#ff4f4c"/>
<path d="M73.0 200.8l1.7 3h-3.4z" fill="#ff4f4c"/>
<path d="M74.9 198.5l1.7 3h-3.4z" fill="#ff4f4c"/>
<path d="M76.4 197.4l1.7 3h-3.4z" fill="#ff4f4c"/>
<path d="M78.7 197.0l1.7 3h-3.4z" fill="#ff4f4c"/>
<path d="M79.8 198.5l1.7 3h-3.4z" fill="#ff4f4c"/>
<path d="M79.0 200.8l1.7 3h-3.4z" fill="#ff4f4c"/>
<path d="M82.1 197.8l1.7 3h-3.4z" fill="#ff4f4c"/>
<path d="M83.6 199.3l1.7 3h-3.4z" fill="#ff4f4c"/>
<path d="M84.4 200.8l1.7 3h-3.4z" fill="#ff4f4c"/>
<path d="M85.1 195.5l1.7 3h-3.4z" fill="#ff4f4c"/>
<path d="M86.3 199.7l1.7 3h-3.4z" fill="#ff4f4c"/>
<path d="M87.4 198.2l1.7 3h-3.4z" fill="#ff4f4c"/>
<path d="M89.0 199.3l1.7 3h-3.4z" fill="#ff4f4c"/>
<path d="M90.5 197.0l1.7 3h-3.4z" fill="#ff4f4c"/>
<path d="M91.2 198.5l1.7 3h-3.4z" fill="#ff4f4c"/>
<path d="M95.0 197.0l1.7 3h-3.4z" fill="#ff4f4c"/>
<path d="M95.8 199.7l1.7 3h-3.4z" fill="#ff4f4c"/>
<path d="M94.7 201.6l1.7 3h-3.4z" fill="#ff4f4c"/>
<path d="M85.9 203.9l1.7 3h-3.4z" fill="#ff4f4c"/>
<path d="M89.0 204.6l1.7 3h-3.4z" fill="#ff4f4c"/>
<path d="M68.4 203.9l1.7 3h-3.4z" fill="#ff4f4c"/>
<path d="M68.0 206.2l1.7 3h-3.4z" fill="#ff4f4c"/>
<path d="M66.1 209.6l1.7 3h-3.4z" fill="#ff4f4c"/>
<path d="M70.7 209.6l1.7 3h-3.4z" fill="#ff4f4c"/>
<path d="M73.7 206.2l1.7 3h-3.4z" fill="#ff4f4c"/>
<path d="M75.2 205.8l1.7 3h-3.4z" fill="#ff4f4c"/>
<path d="M77.9 208.1l1.7 3h-3.4z" fill="#ff4f4c"/>
<path d="M78.3 209.6l1.7 3h-3.4z" fill="#ff4f4c"/>
<path d="M81.7 211.1l1.7 3h-3.4z" fill="#ff4f4c"/>
<path d="M82.1 212.3l1.7 3h-3.4z" fill="#ff4f4c"/>
<path d="M91.2 209.6l1.7 3h-3.4z" fill="#ff4f4c"/>
<path d="M92.8 206.9l1.7 3h-3.4z" fill="#ff4f4c"/>
<path d="M64.6 212.6l1.7 3h-3.4z" fill="#ff4f4c"/>
<path d="M60.0 205.4l1.7 3h-3.4z" fill="#ff4f4c"/>
<path d="M93.5 204.3l1.7 3h-3.4z" fill="#ff4f4c"/>
<path d="M71.4 187.9l1.7 3h-3.4z" fill="#6550f2"/>
<path d="M78.7 187.1l1.7 3h-3.4z" fill="#6550f2"/>
<path d="M64.6 192.1l1.7 3h-3.4z" fill="#6550f2"/>
<path d="M86.7 189.8l1.7 3h-3.4z" fill="#6550f2"/>
<path d="M90.5 194.0l1.7 3h-3.4z" fill="#6550f2"/>
<path d="M61.5 195.9l1.7 3h-3.4z" fill="#6550f2"/>
<path d="M71.0 195.5l1.7 3h-3.4z" fill="#6550f2"/>
<path d="M73.3 196.6l1.7 3h-3.4z" fill="#6550f2"/>
<path d="M75.2 195.9l1.7 3h-3.4z" fill="#6550f2"/>
<path d="M81.0 194.3l1.7 3h-3.4z" fill="#6550f2"/>
<path d="M82.1 195.5l1.7 3h-3.4z" fill="#6550f2"/>
<path d="M73.7 198.9l1.7 3h-3.4z" fill="#6550f2"/>
<path d="M76.0 199.7l1.7 3h-3.4z" fill="#6550f2"/>
<path d="M78.3 200.1l1.7 3h-3.4z" fill="#6550f2"/>
<path d="M80.6 199.7l1.7 3h-3.4z" fill="#6550f2"/>
<path d="M82.9 201.2l1.7 3h-3.4z" fill="#6550f2"/>
<path d="M72.2 201.6l1.7 3h-3.4z" fill="#6550f2"/>
<path d="M71.4 203.1l1.7 3h-3.4z" fill="#6550f2"/>
<path d="M77.5 203.1l1.7 3h-3.4z" fill="#6550f2"/>
<path d="M78.3 204.6l1.7 3h-3.4z" fill="#6550f2"/>
<path d="M86.7 200.8l1.7 3h-3.4z" fill="#6550f2"/>
<path d="M89.0 201.6l1.7 3h-3.4z" fill="#6550f2"/>
<path d="M90.9 202.3l1.7 3h-3.4z" fill="#6550f2"/>
<path d="M93.5 202.3l1.7 3h-3.4z" fill="#6550f2"/>
<path d="M96.6 201.6l1.7 3h-3.4z" fill="#6550f2"/>
<path d="M98.1 199.7l1.7 3h-3.4z" fill="#6550f2"/>
<path d="M99.2 192.4l1.7 3h-3.4z" fill="#6550f2"/>
<path d="M99.6 197.8l1.7 3h-3.4z" fill="#6550f2"/>
<path d="M71.8 207.7l1.7 3h-3.4z" fill="#6550f2"/>
<path d="M73.7 205.8l1.7 3h-3.4z" fill="#6550f2"/>
<path d="M86.7 206.9l1.7 3h-3.4z" fill="#6550f2"/>
<path d="M87.0 209.2l1.7 3h-3.4z" fill="#6550f2"/>
<path d="M95.0 206.2l1.7 3h-3.4z" fill="#6550f2"/>
<path d="M95.8 207.7l1.7 3h-3.4z" fill="#6550f2"/>
<path d="M79.8 209.2l1.7 3h-3.4z" fill="#6550f2"/>
<path d="M77.9 211.9l1.7 3h-3.4z" fill="#6550f2"/>
<path d="M63.8 212.3l1.7 3h-3.4z" fill="#6550f2"/>
<path d="M92.8 212.3l1.7 3h-3.4z" fill="#6550f2"/>
<path d="M84.8 202.7l1.7 3h-3.4z" fill="#6550f2"/>
<path d="M63.7 321.9l1.7 3h-3.4z" fill="#ff4f4c"/>
<path d="M62.4 326.4l1.7 3h-3.4z" fill="#ff4f4c"/>
<path d="M60.5 332.1l1.7 3h-3.4z" fill="#ff4f4c"/>
<path d="M70.6 330.2l1.7 3h-3.4z" fill="#ff4f4c"/>
<path d="M72.6 328.9l1.7 3h-3.4z" fill="#ff4f4c"/>
<path d="M77.0 330.2l1.7 3h-3.4z" fill="#ff4f4c"/>
<path d="M78.3 332.7l1.7 3h-3.4z" fill="#ff4f4c"/>
<path d="M80.2 332.1l1.7 3h-3.4z" fill="#ff4f4c"/>
<path d="M79.5 336.5l1.7 3h-3.4z" fill="#ff4f4c"/>
<path d="M88.4 331.4l1.7 3h-3.4z" fill="#ff4f4c"/>
<path d="M89.1 335.9l1.7 3h-3.4z" fill="#ff4f4c"/>
<path d="M92.2 332.1l1.7 3h-3.4z" fill="#ff4f4c"/>
<path d="M49.1 337.8l1.7 3h-3.4z" fill="#ff4f4c"/>
<path d="M54.2 326.4l1.7 3h-3.4z" fill="#6550f2"/>
<path d="M49.7 321.9l1.7 3h-3.4z" fill="#6550f2"/>
<path d="M50.3 323.8l1.7 3h-3.4z" fill="#6550f2"/>
<path d="M86.5 330.2l1.7 3h-3.4z" fill="#6550f2"/>
<path d="M84.6 332.1l1.7 3h-3.4z" fill="#6550f2"/>
<path d="M87.8 333.4l1.7 3h-3.4z" fill="#6550f2"/>
<path d="M89.7 335.3l1.7 3h-3.4z" fill="#6550f2"/>
<path d="M70.0 328.9l1.7 3h-3.4z" fill="#6550f2"/>
<path d="M67.5 335.3l1.7 3h-3.4z" fill="#6550f2"/>
<path d="M70.6 335.9l1.7 3h-3.4z" fill="#6550f2"/>
<path d="M63.0 334.6l1.7 3h-3.4z" fill="#6550f2"/>
<path d="M104.2 313.0l1.7 3h-3.4z" fill="#ff4f4c"/>
<path d="M104.9 315.6l1.7 3h-3.4z" fill="#ff4f4c"/>
<path d="M109.9 308.0l1.7 3h-3.4z" fill="#ff4f4c"/>
<path d="M106.1 319.4l1.7 3h-3.4z" fill="#ff4f4c"/>
<path d="M108.7 318.1l1.7 3h-3.4z" fill="#ff4f4c"/>
<path d="M109.3 321.9l1.7 3h-3.4z" fill="#ff4f4c"/>
<path d="M104.9 322.6l1.7 3h-3.4z" fill="#ff4f4c"/>
<path d="M115.6 316.2l1.7 3h-3.4z" fill="#ff4f4c"/>
<path d="M120.1 325.1l1.7 3h-3.4z" fill="#ff4f4c"/>
<path d="M101.7 332.1l1.7 3h-3.4z" fill="#ff4f4c"/>
<path d="M115.0 330.8l1.7 3h-3.4z" fill="#ff4f4c"/>
<path d="M116.3 329.5l1.7 3h-3.4z" fill="#ff4f4c"/>
<path d="M130.9 326.4l1.7 3h-3.4z" fill="#ff4f4c"/>
<path d="M130.2 327.6l1.7 3h-3.4z" fill="#ff4f4c"/>
<path d="M89.6 335.3l1.7 3h-3.4z" fill="#ff4f4c"/>
<path d="M91.5 332.1l1.7 3h-3.4z" fill="#ff4f4c"/>
<path d="M104.9 326.4l1.7 3h-3.4z" fill="#ff4f4c"/>
<path d="M110.6 311.1l1.7 3h-3.4z" fill="#6550f2"/>
<path d="M115.0 312.2l1.7 3h-3.4z" fill="#6550f2"/>
<path d="M119.2 304.2l1.7 3h-3.4z" fill="#6550f2"/>
<path d="M123.3 308.4l1.7 3h-3.4z" fill="#6550f2"/>
<path d="M108.0 321.3l1.7 3h-3.4z" fill="#6550f2"/>
<path d="M111.2 322.6l1.7 3h-3.4z" fill="#6550f2"/>
<path d="M113.1 322.6l1.7 3h-3.4z" fill="#6550f2"/>
<path d="M114.4 320.0l1.7 3h-3.4z" fill="#6550f2"/>
<path d="M116.3 318.8l1.7 3h-3.4z" fill="#6550f2"/>
<path d="M117.6 316.9l1.7 3h-3.4z" fill="#6550f2"/>
<path d="M120.7 316.9l1.7 3h-3.4z" fill="#6550f2"/>
<path d="M123.3 321.9l1.7 3h-3.4z" fill="#6550f2"/>
<path d="M124.5 320.7l1.7 3h-3.4z" fill="#6550f2"/>
<path d="M124.5 324.5l1.7 3h-3.4z" fill="#6550f2"/>
<path d="M121.4 328.9l1.7 3h-3.4z" fill="#6550f2"/>
<path d="M125.8 330.2l1.7 3h-3.4z" fill="#6550f2"/>
<path d="M104.2 328.9l1.7 3h-3.4z" fill="#6550f2"/>
<path d="M110.6 326.4l1.7 3h-3.4z" fill="#6550f2"/>
<path d="M117.6 328.9l1.7 3h-3.4z" fill="#6550f2"/>
<path d="M111.8 332.1l1.7 3h-3.4z" fill="#6550f2"/>
<path d="M122.0 332.1l1.7 3h-3.4z" fill="#6550f2"/>
<path d="M96.0 332.7l1.7 3h-3.4z" fill="#6550f2"/>
<path d="M92.8 334.6l1.7 3h-3.4z" fill="#6550f2"/>
<path d="M131.5 337.2l1.7 3h-3.4z" fill="#6550f2"/>
<path d="M136.6 320.7l1.7 3h-3.4z" fill="#6550f2"/>
<path d="M106.8 315.6l1.7 3h-3.4z" fill="#6550f2"/>
<path d="M144.4 313.0l1.7 3h-3.4z" fill="#ff4f4c"/>
<path d="M144.2 319.4l1.7 3h-3.4z" fill="#ff4f4c"/>
<path d="M141.6 334.0l1.7 3h-3.4z" fill="#ff4f4c"/>
<path d="M142.2 333.4l1.7 3h-3.4z" fill="#ff4f4c"/>
<path d="M179.1 324.5l1.7 3h-3.4z" fill="#ff4f4c"/>
<path d="M182.9 323.8l1.7 3h-3.4z" fill="#ff4f4c"/>
<path d="M140.3 313.7l1.7 3h-3.4z" fill="#6550f2"/>
<path d="M136.5 320.7l1.7 3h-3.4z" fill="#6550f2"/>
<path d="M158.1 316.9l1.7 3h-3.4z" fill="#6550f2"/>
<path d="M146.1 322.6l1.7 3h-3.4z" fill="#6550f2"/>
<path d="M153.0 322.6l1.7 3h-3.4z" fill="#6550f2"/>
<path d="M149.2 326.4l1.7 3h-3.4z" fill="#6550f2"/>
<path d="M150.5 328.3l1.7 3h-3.4z" fill="#6550f2"/>
<path d="M152.4 326.4l1.7 3h-3.4z" fill="#6550f2"/>
<path d="M146.7 329.5l1.7 3h-3.4z" fill="#6550f2"/>
<path d="M147.3 331.4l1.7 3h-3.4z" fill="#6550f2"/>
<path d="M140.3 332.7l1.7 3h-3.4z" fill="#6550f2"/>
<path d="M143.5 332.7l1.7 3h-3.4z" fill="#6550f2"/>
<path d="M166.4 325.1l1.7 3h-3.4z" fill="#6550f2"/>
<path d="M153.0 337.2l1.7 3h-3.4z" fill="#6550f2"/>
<path d="M181.6 326.4l1.7 3h-3.4z" fill="#6550f2"/>
<path d="M182.2 327.6l1.7 3h-3.4z" fill="#6550f2"/>
<path d="M179.6 324.5l1.7 3h-3.4z" fill="#ff4f4c"/>
<path d="M184.1 323.8l1.7 3h-3.4z" fill="#ff4f4c"/>
<path d="M190.4 324.8l1.7 3h-3.4z" fill="#ff4f4c"/>
<path d="M187.9 328.9l1.7 3h-3.4z" fill="#ff4f4c"/>
<path d="M208.8 327.6l1.7 3h-3.4z" fill="#ff4f4c"/>
<path d="M209.5 328.3l1.7 3h-3.4z" fill="#ff4f4c"/>
<path d="M180.9 326.4l1.7 3h-3.4z" fill="#6550f2"/>
<path d="M182.2 327.6l1.7 3h-3.4z" fill="#6550f2"/>
<path d="M223.2 317.2l1.7 3h-3.4z" fill="#6550f2"/>
<path d="M182.8 325.7l1.7 3h-3.4z" fill="#6550f2"/>
<path d="M94.9 341.6l1.7 3h-3.4z" fill="#ff4f4c"/>
<path d="M153.4 342.4l1.7 3h-3.4z" fill="#ff4f4c"/>
<path d="M70.7 341.1l1.7 3h-3.4z" fill="#6550f2"/>
<path d="M73.3 343.1l1.7 3h-3.4z" fill="#6550f2"/>
<path d="M77.0 342.3l1.7 3h-3.4z" fill="#6550f2"/>
<path d="M128.0 338.6l1.7 3h-3.4z" fill="#6550f2"/>
<path d="M157.2 348.7l1.7 3h-3.4z" fill="#6550f2"/>
<path d="M84.6 309.7l1.7 3h-3.4z" fill="#ff4f4c"/>
<path d="M85.0 311.6l1.7 3h-3.4z" fill="#ff4f4c"/>
<path d="M91.4 312.4l1.7 3h-3.4z" fill="#ff4f4c"/>
<path d="M96.8 312.4l1.7 3h-3.4z" fill="#ff4f4c"/>
<path d="M100.2 312.8l1.7 3h-3.4z" fill="#ff4f4c"/>
<path d="M67.0 313.5l1.7 3h-3.4z" fill="#ff4f4c"/>
<path d="M66.7 316.6l1.7 3h-3.4z" fill="#ff4f4c"/>
<path d="M76.6 317.0l1.7 3h-3.4z" fill="#ff4f4c"/>
<path d="M86.9 314.7l1.7 3h-3.4z" fill="#ff4f4c"/>
<path d="M87.6 316.6l1.7 3h-3.4z" fill="#ff4f4c"/>
<path d="M88.4 318.9l1.7 3h-3.4z" fill="#ff4f4c"/>
<path d="M90.7 318.1l1.7 3h-3.4z" fill="#ff4f4c"/>
<path d="M92.6 317.7l1.7 3h-3.4z" fill="#ff4f4c"/>
<path d="M95.2 318.1l1.7 3h-3.4z" fill="#ff4f4c"/>
<path d="M96.8 318.9l1.7 3h-3.4z" fill="#ff4f4c"/>
<path d="M98.3 319.3l1.7 3h-3.4z" fill="#ff4f4c"/>
<path d="M101.3 319.3l1.7 3h-3.4z" fill="#ff4f4c"/>
<path d="M64.4 319.6l1.7 3h-3.4z" fill="#ff4f4c"/>
<path d="M71.6 321.2l1.7 3h-3.4z" fill="#ff4f4c"/>
<path d="M72.4 320.4l1.7 3h-3.4z" fill="#ff4f4c"/>
<path d="M74.3 323.1l1.7 3h-3.4z" fill="#ff4f4c"/>
<path d="M77.7 321.2l1.7 3h-3.4z" fill="#ff4f4c"/>
<path d="M79.2 322.7l1.7 3h-3.4z" fill="#ff4f4c"/>
<path d="M78.5 324.6l1.7 3h-3.4z" fill="#ff4f4c"/>
<path d="M82.3 320.8l1.7 3h-3.4z" fill="#ff4f4c"/>
<path d="M83.4 325.0l1.7 3h-3.4z" fill="#ff4f4c"/>
<path d="M88.4 321.9l1.7 3h-3.4z" fill="#ff4f4c"/>
<path d="M93.0 322.7l1.7 3h-3.4z" fill="#ff4f4c"/>
<path d="M96.0 321.9l1.7 3h-3.4z" fill="#ff4f4c"/>
<path d="M99.0 325.0l1.7 3h-3.4z" fill="#ff4f4c"/>
<path d="M101.3 327.3l1.7 3h-3.4z" fill="#ff4f4c"/>
<path d="M64.0 323.4l1.7 3h-3.4z" fill="#ff4f4c"/>
<path d="M102.9 323.4l1.7 3h-3.4z" fill="#ff4f4c"/>
<path d="M80.4 318.9l1.7 3h-3.4z" fill="#ff4f4c"/>
<path d="M77.3 306.3l1.7 3h-3.4z" fill="#6550f2"/>
<path d="M64.4 309.3l1.7 3h-3.4z" fill="#6550f2"/>
<path d="M80.4 311.3l1.7 3h-3.4z" fill="#6550f2"/>
<path d="M89.1 308.2l1.7 3h-3.4z" fill="#6550f2"/>
<path d="M93.3 307.8l1.7 3h-3.4z" fill="#6550f2"/>
<path d="M99.0 309.0l1.7 3h-3.4z" fill="#6550f2"/>
<path d="M65.5 313.9l1.7 3h-3.4z" fill="#6550f2"/>
<path d="M75.4 313.9l1.7 3h-3.4z" fill="#6550f2"/>
<path d="M83.8 312.8l1.7 3h-3.4z" fill="#6550f2"/>
<path d="M89.9 311.6l1.7 3h-3.4z" fill="#6550f2"/>
<path d="M96.0 313.5l1.7 3h-3.4z" fill="#6550f2"/>
<path d="M72.4 318.5l1.7 3h-3.4z" fill="#6550f2"/>
<path d="M81.9 316.6l1.7 3h-3.4z" fill="#6550f2"/>
<path d="M83.4 317.7l1.7 3h-3.4z" fill="#6550f2"/>
<path d="M85.3 318.9l1.7 3h-3.4z" fill="#6550f2"/>
<path d="M86.9 317.3l1.7 3h-3.4z" fill="#6550f2"/>
<path d="M89.1 316.2l1.7 3h-3.4z" fill="#6550f2"/>
<path d="M93.0 315.8l1.7 3h-3.4z" fill="#6550f2"/>
<path d="M97.5 316.2l1.7 3h-3.4z" fill="#6550f2"/>
<path d="M102.1 318.1l1.7 3h-3.4z" fill="#6550f2"/>
<path d="M103.6 313.5l1.7 3h-3.4z" fill="#6550f2"/>
<path d="M65.9 320.4l1.7 3h-3.4z" fill="#6550f2"/>
<path d="M66.3 324.6l1.7 3h-3.4z" fill="#6550f2"/>
<path d="M70.9 325.0l1.7 3h-3.4z" fill="#6550f2"/>
<path d="M77.3 323.1l1.7 3h-3.4z" fill="#6550f2"/>
<path d="M79.2 324.2l1.7 3h-3.4z" fill="#6550f2"/>
<path d="M86.1 322.7l1.7 3h-3.4z" fill="#6550f2"/>
<path d="M86.9 324.2l1.7 3h-3.4z" fill="#6550f2"/>
<path d="M89.9 321.2l1.7 3h-3.4z" fill="#6550f2"/>
<path d="M91.4 320.4l1.7 3h-3.4z" fill="#6550f2"/>
<path d="M94.5 324.2l1.7 3h-3.4z" fill="#6550f2"/>
<path d="M96.0 325.7l1.7 3h-3.4z" fill="#6550f2"/>
<path d="M99.8 323.4l1.7 3h-3.4z" fill="#6550f2"/>
<path d="M102.9 321.2l1.7 3h-3.4z" fill="#6550f2"/>
<path d="M70.1 327.6l1.7 3h-3.4z" fill="#6550f2"/>
<path d="M81.5 320.4l1.7 3h-3.4z" fill="#6550f2"/>
</g>
</svg></body></html>
